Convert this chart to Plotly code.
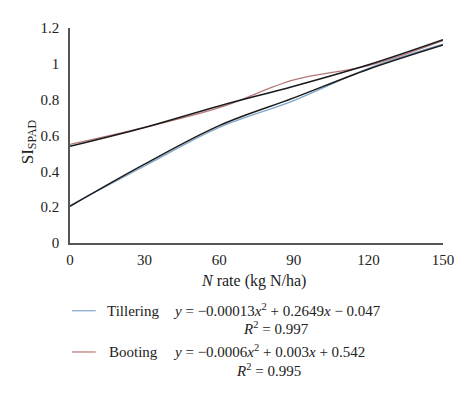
import plotly.graph_objects as go

n_rate = [0, 30, 60, 90, 120, 150]
tillering = [0.21, 0.43, 0.645, 0.795, 0.975, 1.11]
booting = [0.55, 0.645, 0.755, 0.91, 0.99, 1.13]
tillering_trend = [0.205, 0.44, 0.655, 0.81, 0.97, 1.105]
booting_trend = [0.54, 0.645, 0.765, 0.875, 0.995, 1.135]
x_ticks = [0, 30, 60, 90, 120, 150]
y_ticks = [0, 0.2, 0.4, 0.6, 0.8, 1.0, 1.2]
y_tick_labels = ["0", "0.2", "0.4", "0.6", "0.8", "1", "1.2"]

BLUE = "#7ea6cc"
RED = "#b57878"
FONT = "Liberation Serif"

fig = go.Figure()
fig.add_trace(go.Scatter(x=n_rate, y=tillering, mode="lines", line=dict(color=BLUE, width=1.3, shape="spline"), showlegend=False))
fig.add_trace(go.Scatter(x=n_rate, y=booting, mode="lines", line=dict(color=RED, width=1.3, shape="spline"), showlegend=False))
fig.add_trace(go.Scatter(x=n_rate, y=tillering_trend, mode="lines", line=dict(color="#1a1a1a", width=1.5, shape="spline"), showlegend=False))
fig.add_trace(go.Scatter(x=n_rate, y=booting_trend, mode="lines", line=dict(color="#1a1a1a", width=1.5, shape="spline"), showlegend=False))

OFF = 8  # page body margin
W, H = 474 - 2 * OFF, 398 - 2 * OFF
L, T = 70 - OFF, 24 - OFF
pw, ph = 377, 219
R = W - L - pw
B = H - T - ph

def px(x):
    return (x - OFF - L) / pw

def py(y):
    return (H - B - (y - OFF)) / ph

fig.update_layout(
    width=W, height=H,
    margin=dict(l=L, r=R, t=T, b=B),
    paper_bgcolor="white", plot_bgcolor="white",
    font=dict(family=FONT, size=15, color="#222"),
    xaxis=dict(range=[0, 150], tickvals=x_ticks, showgrid=False, zeroline=False,
               showline=True, linecolor="#555", linewidth=1.5, ticks="", ticklen=0,
               ticklabelstandoff=2, tickfont=dict(size=15, family=FONT)),
    yaxis=dict(range=[0, 1.2], tickvals=y_ticks, ticktext=y_tick_labels, showgrid=False, zeroline=False,
               showline=True, linecolor="#555", linewidth=1.5, ticks="", ticklen=0,
               ticklabelstandoff=6, tickfont=dict(size=15, family=FONT)),
)

def a(text, x, y, xanchor="center", size=15, **kw):
    return dict(text=text, x=px(x), y=py(y), xref="paper", yref="paper", xanchor=xanchor,
                yanchor="middle", showarrow=False, font=dict(size=size, family=FONT), **kw)

ann = [
    a("<i>N</i> rate (kg N/ha)", 255, 282, size=16),
    a("SI<sub>SPAD</sub>", 28, 140, size=17, textangle=-90),
    a("Tillering", 105, 312, xanchor="left"),
    a("<i>y</i> = \u22120.00013<i>x</i><sup>2</sup> + 0.2649<i>x</i> \u2212 0.047", 172, 311, xanchor="left"),
    a("<i>R</i><sup>2</sup> = 0.997", 278, 330),
    a("Booting", 107, 354, xanchor="left"),
    a("<i>y</i> = \u22120.0006<i>x</i><sup>2</sup> + 0.003<i>x</i> + 0.542", 172, 353, xanchor="left"),
    a("<i>R</i><sup>2</sup> = 0.995", 271, 372),
]
fig.update_layout(annotations=ann)

shapes = [
    dict(type="line", xref="paper", yref="paper", x0=px(72), x1=px(96), y0=py(312), y1=py(312),
         line=dict(color=BLUE, width=1.2)),
    dict(type="line", xref="paper", yref="paper", x0=px(72), x1=px(96), y0=py(354), y1=py(354),
         line=dict(color=RED, width=1.2)),
]
fig.update_layout(shapes=shapes)

fig.write_html("out.html")
